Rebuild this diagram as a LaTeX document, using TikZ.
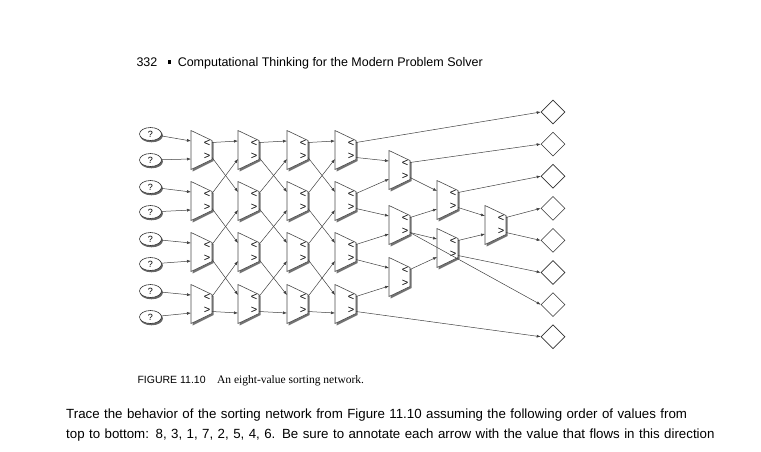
\documentclass[tikz,border=0pt]{standalone}
\usepackage{fontspec}
\setmainfont{Liberation Serif}
\setsansfont{Liberation Sans}
\usetikzlibrary{shapes.geometric,arrows.meta}
\newcommand\mycmp[3]{%
  \fill[black!55] (#2+1.5,#3-18.5) -- (#2+22.5,#3-8) -- (#2+22.5,#3+11) -- (#2+1.5,#3+21.5) -- cycle;
  \filldraw[draw=black!70,fill=white,line width=0.6pt] (#2,#3-19.5) -- (#2+21,#3-9.5) -- (#2+21,#3+9.5) -- (#2,#3+19.5) -- cycle;
  \node[lbl] at (#2+16,#3-6.5) {<};
  \node[lbl] at (#2+16,#3+6.5) {>};
  \coordinate (#1-a) at (#2,#3-9);
  \coordinate (#1-b) at (#2,#3+9);
  \coordinate (#1-l) at (#2+21,#3-7.5);
  \coordinate (#1-g) at (#2+21,#3+7.5);}
\begin{document}
\begin{tikzpicture}[x=1pt,y=-1pt,
  lbl/.style={inner sep=0pt,font=\sffamily\fontsize{11}{12}\selectfont},
  wire/.style={draw=black!75,line width=0.5pt,-{Latex[length=4pt,width=3pt]}},
  outp/.style={diamond,draw=black!80,line width=0.6pt,fill=white,minimum width=24pt,minimum height=24pt,inner sep=0pt}]
\useasboundingbox (0,0) rectangle (761,451);
\node[anchor=west,font=\sffamily\fontsize{12.5}{14}\selectfont] (hd) at (133,63) {332 \ \ \rule[2pt]{3pt}{4.5pt}\ \ \textbf{\addfontfeatures{FakeBold=0}}Computational Thinking for the Modern Problem Solver};
% inputs
\foreach \i/\y in {0/134,1/160,2/187,3/212,4/239,5/264,6/291,7/317}{
  \fill[black!60] (151.5,\y+1.5) ellipse (11.5pt and 6.8pt);
  \node[ellipse,draw=black!80,line width=0.6pt,fill=white,minimum width=22pt,minimum height=13pt,inner sep=0pt,font=\sffamily\fontsize{9}{10}\selectfont] (in\i) at (150.5,\y) {?};
}
% outputs
\foreach \i in {0,...,7}{
  \node[outp] (out\i) at (553,112+32.1*\i) {};
}
% comparator columns 1-4
\foreach \c/\x in {1/191,2/238,3/287,4/335}{
  \foreach \k/\y in {0/150,1/201,2/252,3/304}{
    \mycmp{c\c\k}{\x}{\y}
  }
}
\mycmp{c50}{389}{170}
\mycmp{c51}{389}{225}
\mycmp{c52}{389}{277}
\mycmp{c60}{437}{200}
\mycmp{c61}{437}{248}
\mycmp{c70}{485}{225}
% input wires
\draw[wire] (in0) -- (c10-a); \draw[wire] (in1) -- (c10-b);
\draw[wire] (in2) -- (c11-a); \draw[wire] (in3) -- (c11-b);
\draw[wire] (in4) -- (c12-a); \draw[wire] (in5) -- (c12-b);
\draw[wire] (in6) -- (c13-a); \draw[wire] (in7) -- (c13-b);
% butterfly transitions
\foreach \c/\n in {1/2,2/3,3/4}{
  \draw[wire] (c\c0-l) -- (c\n0-a);
  \draw[wire] (c\c0-g) -- (c\n1-a);
  \draw[wire] (c\c1-l) -- (c\n0-b);
  \draw[wire] (c\c1-g) -- (c\n2-a);
  \draw[wire] (c\c2-l) -- (c\n1-b);
  \draw[wire] (c\c2-g) -- (c\n3-a);
  \draw[wire] (c\c3-l) -- (c\n2-b);
  \draw[wire] (c\c3-g) -- (c\n3-b);
}
% column 4 -> 5
\draw[wire] (c40-l) -- (out0.west);
\draw[wire] (c40-g) -- (c50-a);
\draw[wire] (c41-l) -- (c50-b);
\draw[wire] (c41-g) -- (c51-a);
\draw[wire] (c42-l) -- (c51-b);
\draw[wire] (c42-g) -- (c52-a);
\draw[wire] (c43-l) -- (c52-b);
\draw[wire] (c43-g) -- (out7.west);
% column 5 -> 6
\draw[wire] (c50-l) -- (out1.west);
\draw[wire] (c50-g) -- (c60-a);
\draw[wire] (c51-l) -- (c60-b);
\draw[wire] (c51-g) -- (out6.west);
\draw[wire] (c52-l) -- (c61-b);
\draw[wire] (c51-g) -- (c61-a);
% column 6 -> 7
\draw[wire] (c60-l) -- (out2.west);
\draw[wire] (c60-g) -- (c70-a);
\draw[wire] (c61-l) -- (c70-b);
\draw[wire] (c61-g) -- (out5.west);
\draw[wire] (c70-l) -- (out3.west);
\draw[wire] (c70-g) -- (out4.west);
% caption and text
\node[anchor=west,font=\fontsize{11.5}{13}\selectfont] (cap) at (134,381) {{\sffamily\fontsize{10.5}{12}\selectfont FIGURE 11.10}\quad An eight-value sorting network.};
\node[anchor=north west,align=left,font=\sffamily\fontsize{13.3}{20}\selectfont,text width=740pt,inner sep=0pt] (txt) at (66,409) {Trace the behavior of the sorting network from Figure 11.10 assuming the following order of values from\\ top to bottom: 8, 3, 1, 7, 2, 5, 4, 6. Be sure to annotate each arrow with the value that flows in this direction};
\end{tikzpicture}
\end{document}
